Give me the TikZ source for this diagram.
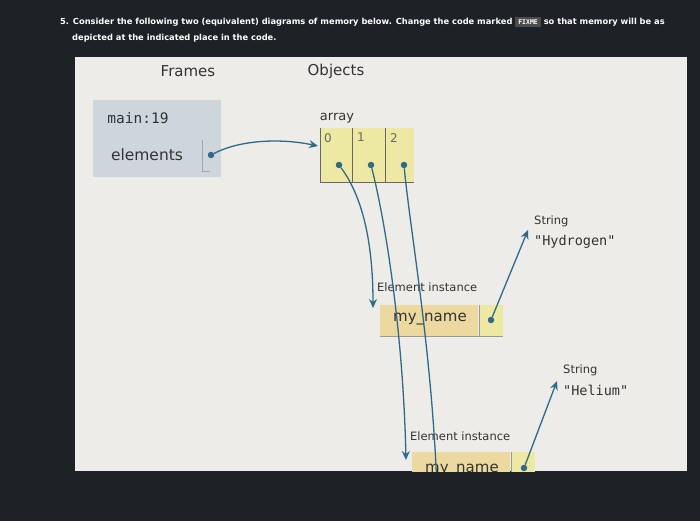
\documentclass[tikz,border=0pt]{standalone}
\usepackage{fontspec}
\setmainfont{DejaVu Sans}
\setmonofont{DejaVu Sans Mono}
\usetikzlibrary{arrows.meta}
\definecolor{bg}{HTML}{1E2226}
\definecolor{panel}{HTML}{EDECE8}
\definecolor{frm}{HTML}{CED6DB}
\definecolor{yel}{HTML}{EEE9A2}
\definecolor{tan}{HTML}{EBD9A0}
\definecolor{ptr}{HTML}{2F6A8C}
\tikzset{
  ptrline/.style={ptr, line width=1.3pt, -{Stealth[length=9pt,width=8pt,inset=3pt]}},
  dotp/.style={circle, fill=ptr, inner sep=0pt, minimum size=6.5pt},
  lbl/.style={inner sep=0pt, text=black!80},
}
\begin{document}
\begin{tikzpicture}[x=1pt,y=-1pt]
\fill[bg] (0,0) rectangle (700,521);
\node[lbl, text=white, anchor=west, font=\fontsize{8.3}{10}\selectfont\bfseries] (q1) at (60,22) {5. Consider the following two (equivalent) diagrams of memory below. Change the code marked \colorbox{black!70}{\ttfamily\fontsize{6.5}{7}\selectfont FIXME} so that memory will be as};
\node[lbl, text=white, anchor=west, font=\fontsize{8.3}{10}\selectfont\bfseries] (q2) at (72,38) {depicted at the indicated place in the code.};
\fill[panel] (75,57) rectangle (687,471);
\begin{scope}
\clip (75,57) rectangle (687,471);
\node[lbl, font=\fontsize{15}{17}\selectfont] (fr) at (188,71) {Frames};
\node[lbl, font=\fontsize{15}{17}\selectfont] (ob) at (336,71) {Objects};
\fill[frm] (93,100) rectangle (221,177);
\node[lbl, font=\ttfamily\fontsize{14.5}{16}\selectfont] (main) at (138,118) {main:19};
\node[lbl, font=\fontsize{15.5}{17}\selectfont] (el) at (147,155) {elements};
\draw[gray!70, line width=0.6pt] (202,140) -- (202,171) -- (210,171);
\node[dotp] (d0) at (211,155) {};
\node[lbl, font=\fontsize{13}{15}\selectfont] (arr) at (337,118) {array};
\fill[yel] (320,128) rectangle (414,182);
\draw[black!60, line width=0.7pt] (320,128) -- (320,182) -- (414,182);
\draw[black!60, line width=0.7pt] (352,128) -- (352,182) (385,128) -- (385,182);
\node[lbl, text=black!60, font=\fontsize{12}{14}\selectfont, anchor=north west] (i0) at (324,133) {0};
\node[lbl, text=black!60, font=\fontsize{12}{14}\selectfont, anchor=north west] (i1) at (357,133) {1};
\node[lbl, text=black!60, font=\fontsize{12}{14}\selectfont, anchor=north west] (i2) at (390,133) {2};
\node[dotp] (a0) at (339,165) {};
\node[dotp] (a1) at (371,165) {};
\node[dotp] (a2) at (404,165) {};
\coordinate (arrL) at (318,146);
\draw[ptrline] (d0) .. controls (240,140) and (280,138) .. (arrL);
% element 1
\node[lbl, font=\fontsize{11.5}{13}\selectfont, anchor=west] (e1l) at (377,287) {Element instance};
\fill[tan] (380,305) rectangle (478,336);
\fill[yel] (480,305) rectangle (503,336);
\draw[black!40, line width=0.6pt] (380,336) -- (503,336) (479,305) -- (479,336);
\node[lbl, font=\fontsize{15}{17}\selectfont] (n1) at (430,319) {my\_name};
\node[dotp] (p1) at (491,320) {};
\node[lbl, font=\fontsize{11.5}{13}\selectfont, anchor=west] (s1) at (534,221) {String};
\node[lbl, font=\ttfamily\fontsize{13.5}{15}\selectfont, anchor=west] (h1) at (534,242) {"Hydrogen"};
\coordinate (h1t) at (528,230);
\draw[ptrline] (p1) -- (h1t);
% element 2
\node[lbl, font=\fontsize{11.5}{13}\selectfont, anchor=west] (e2l) at (410,436) {Element instance};
\fill[tan] (412,452) rectangle (510,480);
\fill[yel] (512,452) rectangle (535,480);
\draw[black!40, line width=0.6pt] (511,452) -- (511,480);
\node[lbl, font=\fontsize{15}{17}\selectfont] (n2) at (462,470) {my\_name};
\node[dotp] (p2) at (524,468) {};
\node[lbl, font=\fontsize{11.5}{13}\selectfont, anchor=west] (s2) at (563,370) {String};
\node[lbl, font=\ttfamily\fontsize{13.5}{15}\selectfont, anchor=west] (h2) at (563,390) {"Helium"};
\coordinate (h2t) at (557,381);
\draw[ptrline] (p2) -- (h2t);
% array pointers
\coordinate (e1t) at (373,308);
\coordinate (e2t) at (406,460);
\coordinate (e3t) at (437,490);
\draw[ptrline] (a0) .. controls (365,200) and (373,250) .. (e1t);
\draw[ptrline] (a1) .. controls (385,220) and (403,330) .. (e2t);
\draw[ptr, line width=1.3pt] (a2) .. controls (410,230) and (432,350) .. (e3t);
\end{scope}
\end{tikzpicture}
\end{document}
